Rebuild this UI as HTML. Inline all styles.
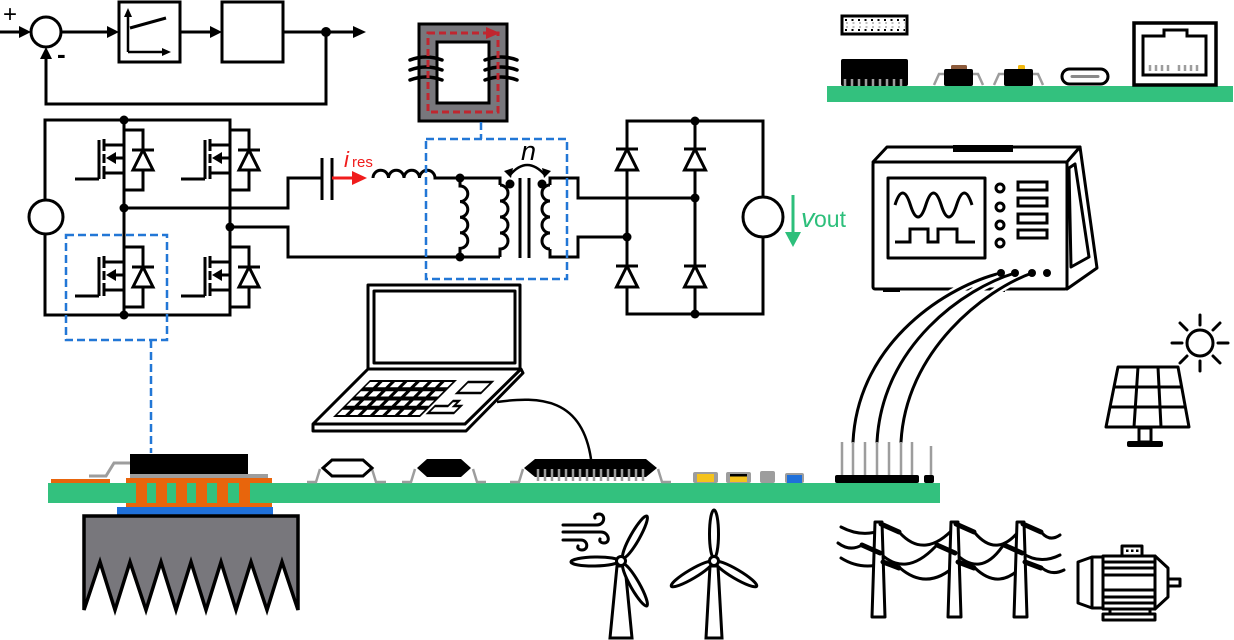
<!DOCTYPE html>
<html><head><meta charset="utf-8"><style>
html,body{margin:0;padding:0;background:#fff;}
svg{display:block;}
text{font-family:"Liberation Sans",sans-serif;}
</style></head><body>
<svg width="1234" height="640" viewBox="0 0 1234 640" xmlns="http://www.w3.org/2000/svg">
<defs>
<g id="sw" stroke="#000" stroke-width="3" fill="none">
  <path d="M0,0 H19 V60 H0"/>
  <polygon points="19,20 9,40 29,40" fill="#fff"/>
  <path d="M8,20 H30"/>
  <path d="M-20,15 H0 M-20,43 H0 M-9,28 H0"/>
  <polygon points="-18,28 -8,22 -8,34" fill="#000" stroke="none"/>
  <path d="M-20,9 V21 M-20,24 V33 M-20,36 V49"/>
  <path d="M-25,10 V49 M-49,49 H-25"/>
</g>
</defs>

<!-- ===== Control loop ===== -->
<g stroke="#000" stroke-width="3" fill="none">
  <path d="M0,32 H22"/>
  <circle cx="46" cy="32" r="15" fill="#fff"/>
  <path d="M61,32 H110"/>
  <rect x="119" y="2" width="61" height="60" fill="#fff"/>
  <path d="M180,32 H213"/>
  <rect x="222" y="2" width="61" height="60" fill="#fff"/>
  <path d="M283,32 H356"/>
  <path d="M326,32 V104 H46 V57"/>
  <path d="M128,52 V15 M128,52 H164" stroke-width="2.5"/>
  <path d="M130,28 L166,18"/>
</g>
<g fill="#000">
  <polygon points="19,26 31,32 19,38"/>
  <polygon points="107,26 119,32 107,38"/>
  <polygon points="210,26 222,32 210,38"/>
  <polygon points="353,26 366,32 353,38"/>
  <polygon points="40,59 46,47 52,59"/>
  <polygon points="124,17 128,8 132,17"/>
  <polygon points="162,48 171,52 162,56"/>
  <circle cx="326" cy="32" r="5"/>
</g>
<text x="3" y="22" font-size="24" fill="#000">+</text>
<text x="57" y="63" font-size="26" font-weight="bold" fill="#000">-</text>

<!-- ===== Full bridge ===== -->
<g stroke="#000" stroke-width="3" fill="none">
  <path d="M45,120 H230 V315 H45 Z"/>
  <path d="M124,120 V315"/>
  <circle cx="46" cy="217" r="17" fill="#fff"/>
  <path d="M124,208 H288 V178 H322"/>
  <path d="M230,227 H288 V257 H500"/>
</g>
<use href="#sw" x="124" y="130"/>
<use href="#sw" x="230" y="130"/>
<use href="#sw" x="124" y="247"/>
<use href="#sw" x="230" y="247"/>
<g fill="#000">
  <circle cx="124" cy="120" r="4.5"/>
  <circle cx="124" cy="208" r="4.5"/>
  <circle cx="124" cy="315" r="4.5"/>
  <circle cx="230" cy="227" r="4.5"/>
</g>
<rect x="66" y="235" width="101" height="105" fill="none" stroke="#2277d6" stroke-width="2.5" stroke-dasharray="8,4"/>
<path d="M151,340 V453" stroke="#2277d6" stroke-width="2.5" stroke-dasharray="8,4"/>

<!-- ===== Resonant tank & transformer ===== -->
<g stroke="#000" stroke-width="3" fill="none">
  <path d="M322,158 V200 M332,158 V200"/>
  <path d="M373,178 a7.75,7.75 0 0 1 15.5,0 a7.75,7.75 0 0 1 15.5,0 a7.75,7.75 0 0 1 15.5,0 a7.75,7.75 0 0 1 15.5,0 H500 V185"/>
  <path d="M500,185 a8,8 0 0 1 0,16 a8,8 0 0 1 0,16 a8,8 0 0 1 0,16 a8,8 0 0 1 0,16 V257"/>
  <path d="M460,178 V186 a7.8,7.8 0 0 1 0,15.6 a7.8,7.8 0 0 1 0,15.6 a7.8,7.8 0 0 1 0,15.6 a7.8,7.8 0 0 1 0,15.6 V257"/>
  <path d="M520,178 V258 M529,178 V258"/>
  <path d="M550,185 a8,8 0 0 0 0,16 a8,8 0 0 0 0,16 a8,8 0 0 0 0,16 a8,8 0 0 0 0,16"/>
  <path d="M550,185 V178 H578 V198 H695"/>
  <path d="M550,249 V257 H578 V237 H627"/>
  <path d="M510,175 Q527,155 545,175" stroke-width="2.5"/>
</g>
<g fill="#000">
  <circle cx="460" cy="178" r="4.5"/>
  <circle cx="460" cy="257" r="4.5"/>
  <circle cx="510" cy="184" r="4.5"/>
  <circle cx="542" cy="184" r="4.5"/>
  <polygon points="504,171 513,168 511,178"/>
  <polygon points="551,171 542,168 544,178"/>
</g>
<path d="M332,178 H355" stroke="#f01c1c" stroke-width="3"/>
<polygon points="352,171 367,178 352,185" fill="#f01c1c"/>
<text x="344" y="167" font-size="22" font-style="italic" fill="#f01c1c">i</text>
<text x="352" y="167" font-size="15" fill="#f01c1c">res</text>
<text x="521" y="160" font-size="27" font-style="italic" fill="#000">n</text>

<!-- core -->
<rect x="419" y="24" width="88" height="97" fill="#78777c" stroke="#000" stroke-width="3"/>
<rect x="437" y="42" width="52" height="61" fill="#fff" stroke="#000" stroke-width="3"/>
<g stroke="#000" stroke-width="3.5" fill="none" stroke-linecap="round">
  <path d="M410,60 Q426,54 442,60 M410,70 Q426,64 442,70 M410,80 Q426,74 442,80"/>
  <path d="M485,60 Q501,54 517,60 M485,70 Q501,64 517,70 M485,80 Q501,74 517,80"/>
</g>
<rect x="428" y="33" width="70" height="79" fill="none" stroke="#c0262f" stroke-width="3" stroke-dasharray="7,4"/>
<polygon points="486,27 500,33 486,39" fill="#c0262f"/>
<rect x="426" y="139" width="141" height="140" fill="none" stroke="#2277d6" stroke-width="2.5" stroke-dasharray="8,4"/>
<path d="M481,122 V139" stroke="#2277d6" stroke-width="2.5" stroke-dasharray="8,4"/>

<!-- ===== Rectifier ===== -->
<g stroke="#000" stroke-width="3" fill="none">
  <path d="M627,121 H763 V314 H627 Z"/>
  <path d="M695,121 V314"/>
  <circle cx="763" cy="217" r="20" fill="#fff"/>
  <polygon points="627,149 616.5,170 637.5,170" fill="#fff"/>
  <polygon points="695,149 684.5,170 705.5,170" fill="#fff"/>
  <polygon points="627,266 616.5,287 637.5,287" fill="#fff"/>
  <polygon points="695,266 684.5,287 705.5,287" fill="#fff"/>
  <path d="M616,149 H638 M684,149 H706 M616,266 H638 M684,266 H706"/>
</g>
<g fill="#000">
  <circle cx="695" cy="121" r="4.5"/>
  <circle cx="695" cy="198" r="4.5"/>
  <circle cx="627" cy="237" r="4.5"/>
  <circle cx="695" cy="314" r="4.5"/>
</g>
<path d="M793,195 V235" stroke="#2dbf7b" stroke-width="3"/>
<polygon points="785,232 801,232 793,247" fill="#2dbf7b"/>
<text x="801" y="227" font-size="27" font-style="italic" fill="#2dbf7b">v</text>
<text x="814" y="227" font-size="23" fill="#2dbf7b">out</text>

<!-- ===== Top-right PCB ===== -->
<rect x="827" y="86" width="406" height="16" fill="#33c17e"/>
<rect x="842" y="16" width="65" height="18" fill="#fff" stroke="#000" stroke-width="3"/>
<path d="M845,20 H905 M845,30 H905" stroke="#000" stroke-width="2" stroke-dasharray="2,4.5"/>
<path d="M846,23 H905 M846,27 H905" stroke="#aaa" stroke-width="1.5" stroke-dasharray="2,4.5"/>
<rect x="841" y="59" width="67" height="27" rx="2" fill="#000"/>
<g stroke="#9d9d9d" stroke-width="2.5">
  <path d="M845,79 V86 M852,79 V86 M859,79 V86 M866,79 V86 M873,79 V86 M880,79 V86 M887,79 V86 M894,79 V86 M901,79 V86"/>
</g>
<g stroke="#9d9d9d" stroke-width="2.5" fill="none">
  <path d="M934,85 L939,74 H945 M972,74 H978 L983,85"/>
  <path d="M994,85 L999,74 H1005 M1032,74 H1038 L1043,85"/>
</g>
<rect x="951" y="65" width="16" height="6" rx="1.5" fill="#8c5a3a"/>
<rect x="944" y="69" width="29" height="17" rx="2" fill="#000"/>
<rect x="1018" y="65" width="7" height="6" rx="1.5" fill="#f2b90f"/>
<rect x="1004" y="69" width="29" height="17" rx="2" fill="#000"/>
<rect x="1062" y="69" width="46" height="15" rx="7.5" fill="#fff" stroke="#000" stroke-width="3"/>
<path d="M1072,76.5 H1098" stroke="#8a8a8a" stroke-width="3" stroke-linecap="round"/>
<rect x="1134" y="23" width="82" height="62" fill="#fff" stroke="#000" stroke-width="3.5"/>
<polygon points="1143,36 1164,36 1164,30 1187,30 1187,36 1206,36 1206,75 1143,75" fill="#fff" stroke="#000" stroke-width="3"/>
<g stroke="#9d9d9d" stroke-width="2.5">
  <path d="M1150,65 V71 M1156,65 V71 M1162,65 V71 M1168,65 V71 M1179,65 V71 M1185,65 V71 M1191,65 V71 M1197,65 V71"/>
</g>

<!-- ===== Oscilloscope ===== -->
<g stroke="#000" stroke-width="3" fill="#fff" stroke-linejoin="round">
  <polygon points="873,162 887,147 1080,147 1067,162"/>
  <polygon points="1067,162 1080,147 1097,268 1067,289"/>
  <polygon points="1069,168 1075,164 1089,257 1071,267" fill="none"/>
  <rect x="873" y="162" width="194" height="127" rx="2"/>
  <rect x="888" y="178" width="97" height="80"/>
</g>
<rect x="953" y="145" width="60" height="7" fill="#000"/>
<g stroke="#000" stroke-width="3" fill="none">
  <path d="M895,205 c5,-16 10.4,-16 15.4,0 s10.4,16 15.4,0 s10.4,-16 15.4,0 s10.4,16 15.4,0 s10.4,-16 15.4,0"/>
  <path d="M895,242 H910 V229 H928 V242 H938 V229 H957 V242 H975"/>
  <circle cx="1000" cy="188" r="4"/>
  <circle cx="1000" cy="207" r="4"/>
  <circle cx="1000" cy="225" r="4"/>
  <circle cx="1000" cy="243" r="4"/>
  <rect x="1018" y="182" width="29" height="8"/>
  <rect x="1018" y="198" width="29" height="8"/>
  <rect x="1018" y="214" width="29" height="9"/>
  <rect x="1018" y="230" width="29" height="8"/>
</g>
<rect x="883" y="288" width="17" height="4" fill="#000"/>
<rect x="992" y="288" width="13" height="4" fill="#000"/>
<!-- cables -->
<g fill="none" stroke-linecap="round">
  <path d="M1001,273 C950,285 858,340 853,442" stroke="#fff" stroke-width="8"/>
  <path d="M1001,273 C950,285 858,340 853,442" stroke="#000" stroke-width="3"/>
  <path d="M1015,273 C965,288 882,345 877,442" stroke="#fff" stroke-width="8"/>
  <path d="M1015,273 C965,288 882,345 877,442" stroke="#000" stroke-width="3"/>
  <path d="M1032,273 C985,290 906,350 901,442" stroke="#fff" stroke-width="8"/>
  <path d="M1032,273 C985,290 906,350 901,442" stroke="#000" stroke-width="3"/>
</g>
<g fill="#000">
  <circle cx="1001" cy="273" r="4"/>
  <circle cx="1015" cy="273" r="4"/>
  <circle cx="1032" cy="273" r="4"/>
  <circle cx="1047" cy="273" r="4"/>
</g>

<!-- ===== Laptop ===== -->
<g stroke="#000" stroke-width="3" fill="#fff" stroke-linejoin="round">
  <polygon points="368,369 521,369 523,373 466,431 313,431 313,424"/>
  <path d="M313,424 H465 L521,369" fill="none"/>
  <rect x="368" y="285" width="152" height="84"/>
  <rect x="374" y="291" width="141" height="72"/>
</g>
<g transform="translate(370,380) skewX(-45)">
  <rect x="0" y="0" width="87" height="37" fill="#000"/>
  <g fill="#fff">
    <rect x="2.2" y="2" width="8" height="5.3"/><rect x="14.6" y="2" width="8" height="5.3"/><rect x="27" y="2" width="8" height="5.3"/><rect x="39.4" y="2" width="8" height="5.3"/><rect x="51.8" y="2" width="8" height="5.3"/><rect x="64.2" y="2" width="8" height="5.3"/><rect x="76.6" y="2" width="8" height="5.3"/>
    <rect x="2.2" y="11.25" width="8" height="5.3"/><rect x="14.6" y="11.25" width="8" height="5.3"/><rect x="27" y="11.25" width="8" height="5.3"/><rect x="39.4" y="11.25" width="8" height="5.3"/><rect x="51.8" y="11.25" width="8" height="5.3"/><rect x="64.2" y="11.25" width="8" height="5.3"/><rect x="76.6" y="11.25" width="8" height="5.3"/>
    <rect x="2.2" y="20.5" width="8" height="5.3"/><rect x="14.6" y="20.5" width="8" height="5.3"/><rect x="27" y="20.5" width="8" height="5.3"/><rect x="39.4" y="20.5" width="8" height="5.3"/><rect x="51.8" y="20.5" width="8" height="5.3"/><rect x="64.2" y="20.5" width="8" height="5.3"/><rect x="76.6" y="20.5" width="8" height="5.3"/>
    <rect x="2.2" y="29.75" width="8" height="5.3"/><rect x="14.6" y="29.75" width="8" height="5.3"/><rect x="27" y="29.75" width="8" height="5.3"/><rect x="39.4" y="29.75" width="8" height="5.3"/><rect x="51.8" y="29.75" width="8" height="5.3"/><rect x="64.2" y="29.75" width="8" height="5.3"/><rect x="76.6" y="29.75" width="8" height="5.3"/>
  </g>
  <rect x="100" y="2" width="24" height="11" fill="#fff" stroke="#000" stroke-width="2.5"/>
  <path d="M91,33 H117 V26 H110 V21 H104 V26 H91 Z" fill="#fff" stroke="#000" stroke-width="2.5"/>
</g>
<path d="M497,402 C540,396 582,398 591,459" fill="none" stroke="#000" stroke-width="2.5"/>

<!-- ===== Main PCB ===== -->
<rect x="48" y="483" width="892" height="20" fill="#33c17e"/>
<rect x="51" y="479" width="59" height="4" fill="#e8650c"/>
<polyline points="89,476 106,476 114,463 130,463" fill="none" stroke="#9d9d9d" stroke-width="3"/>
<rect x="130" y="454" width="118" height="20" fill="#000"/>
<rect x="130" y="474" width="138" height="4" fill="#9d9d9d"/>
<rect x="126" y="478" width="146" height="5" fill="#e8650c"/>
<g fill="#e8650c">
  <rect x="136" y="483" width="11" height="20"/><rect x="156" y="483" width="11" height="20"/><rect x="176" y="483" width="11" height="20"/><rect x="196" y="483" width="11" height="20"/><rect x="217" y="483" width="11" height="20"/><rect x="239" y="483" width="11" height="20"/>
</g>
<rect x="126" y="503" width="146" height="4" fill="#e8650c"/>
<rect x="117" y="507" width="156" height="9" fill="#1f70da"/>
<polygon points="84,516 298,516 298,610 282,562 267,610 251,562 236,610 221,562 206,610 191,562 176,610 161,562 146,610 130,562 115,610 100,562 84,610" fill="#78777c" stroke="#000" stroke-width="3.5" stroke-linejoin="miter"/>

<!-- leads -->
<g fill="none" stroke="#9d9d9d" stroke-width="2.5">
  <path d="M307,482 H316 L320,469 M372,469 L376,482 H386"/>
  <path d="M402,482 H411 L415,469 M473,469 L477,482 H486"/>
  <path d="M510,482 H519 L523,469 M658,469 L662,482 H671"/>
</g>
<polygon points="323,468 332,460 363,460 372,468 363,476 332,476" fill="#fff" stroke="#000" stroke-width="3"/>
<polygon points="417,468 427,459 461,459 471,468 461,477 427,477" fill="#000"/>
<polygon points="524,468 535,459 646,459 657,468 646,477 535,477" fill="#000"/>
<g stroke="#9d9d9d" stroke-width="2.5">
  <path d="M538,469 V481 M545,469 V481 M552,469 V481 M559,469 V481 M566,469 V481 M573,469 V481 M580,469 V481 M587,469 V481 M594,469 V481 M601,469 V481 M608,469 V481 M615,469 V481 M622,469 V481 M629,469 V481 M636,469 V481 M643,469 V481"/>
</g>
<!-- passives -->
<rect x="693" y="472" width="25" height="11" rx="2" fill="#9d9d9d"/>
<rect x="697" y="474" width="17" height="8" fill="#f5c31c"/>
<rect x="726" y="472" width="25" height="11" rx="2" fill="#9d9d9d"/>
<rect x="730" y="474" width="17" height="8" fill="#f5c31c"/>
<rect x="730" y="474" width="17" height="2.5" fill="#000"/>
<rect x="760" y="471" width="15" height="12" rx="2" fill="#9d9d9d"/>
<rect x="785" y="473" width="19" height="10" rx="2" fill="#9d9d9d"/>
<rect x="787" y="475" width="15" height="8" fill="#1f70da"/>
<!-- header -->
<g stroke="#9d9d9d" stroke-width="2.5">
  <path d="M842,442 V477 M853,442 V477 M865,442 V477 M877,442 V477 M889,442 V477 M901,442 V477 M912,442 V477 M931,446 V477"/>
</g>
<rect x="835" y="475" width="84" height="8" rx="2" fill="#000"/>
<rect x="924" y="475" width="10" height="8" rx="2" fill="#000"/>

<!-- ===== Wind turbines ===== -->
<g stroke="#000" stroke-width="3" fill="none" stroke-linecap="round">
  <path d="M563,525 H597 C605,525 606,514 599,514 C596,514 594,516 595,518"/>
  <path d="M563,532 H601 C609,532 611,543 604,543 C601,543 599,541 600,539"/>
  <path d="M563,540 H581 C588,540 589,550 582,550 C579,550 577,548 578,546"/>
</g>
<g stroke="#000" stroke-width="3" fill="#fff">
  <polygon points="617,566 625,566 632,638 610,638"/>
  <ellipse cx="635" cy="537" rx="24" ry="4.5" transform="rotate(-60.5 635 537)"/>
  <ellipse cx="595" cy="561.5" rx="24" ry="4.5" transform="rotate(179 595 561.5)"/>
  <ellipse cx="635" cy="585" rx="24" ry="4.5" transform="rotate(60.5 635 585)"/>
  <circle cx="621" cy="561" r="4.5"/>
  <polygon points="710,566 718,566 722,638 706,638"/>
  <ellipse cx="714" cy="534" rx="24" ry="4.5" transform="rotate(-90 714 534)"/>
  <ellipse cx="692" cy="574" rx="24" ry="4.5" transform="rotate(149.4 692 574)"/>
  <ellipse cx="736" cy="574" rx="24" ry="4.5" transform="rotate(30.6 736 574)"/>
  <circle cx="714" cy="561" r="4.5"/>
</g>

<!-- ===== Power lines ===== -->
<g stroke="#000" stroke-width="3" fill="none" stroke-linecap="round">
  <path d="M841,527 Q862,538 882,530"/>
  <path d="M900,533 Q925,560 955,527"/>
  <path d="M975,533 Q998,560 1022,527"/>
  <path d="M1042,533 Q1050,542 1060,535"/>
  <path d="M838,543 Q850,552 862,545"/>
  <path d="M880,553 Q905,578 935,547"/>
  <path d="M955,553 Q980,578 1002,547"/>
  <path d="M1022,553 Q1040,565 1060,555"/>
  <path d="M841,558 Q860,570 882,564"/>
  <path d="M900,568 Q928,592 957,564"/>
  <path d="M975,568 Q1000,592 1024,564"/>
  <path d="M1042,568 Q1052,576 1064,570"/>
</g>
<g stroke="#000" stroke-width="3" fill="#fff" stroke-linejoin="round">
  <polygon points="875,522 882,522 885,617 872,617"/>
  <polygon points="951,522 958,522 961,617 948,617"/>
  <polygon points="1017,522 1024,522 1027,617 1014,617"/>
</g>
<g stroke="#000" stroke-width="5" stroke-linecap="round">
  <path d="M881,524 L899,532 M862,545 L880,553 M883,562 L899,568"/>
  <path d="M956,524 L974,532 M937,545 L955,553 M958,562 L974,568"/>
  <path d="M1023,524 L1041,532 M1004,545 L1022,553 M1025,562 L1041,568"/>
</g>

<!-- ===== Motor ===== -->
<g stroke="#000" stroke-width="3" fill="#fff" stroke-linejoin="round">
  <polygon points="1078,562 1092,557 1103,557 1103,608 1092,608 1078,603"/>
  <path d="M1092,557 V608" fill="none"/>
  <rect x="1122" y="546" width="20" height="10"/>
  <rect x="1103" y="556" width="52" height="53"/>
  <path d="M1103,562 H1155 M1103,568 H1155 M1103,575 H1155 M1103,590 H1155 M1103,597 H1155 M1103,603 H1155" fill="none"/>
  <polygon points="1155,556 1168,568 1168,597 1155,609"/>
  <rect x="1168" y="579" width="12" height="7"/>
  <rect x="1110" y="609" width="40" height="5"/>
  <rect x="1103" y="614" width="52" height="6"/>
</g>
<g fill="#000">
  <rect x="1126" y="549.5" width="2.5" height="2.5"/><rect x="1131" y="549.5" width="2.5" height="2.5"/><rect x="1136" y="549.5" width="2.5" height="2.5"/>
</g>

<!-- ===== Solar panel ===== -->
<g stroke="#000" stroke-width="3" fill="none" stroke-linecap="round">
  <circle cx="1200" cy="343" r="13" fill="#fff"/>
  <path d="M1218,343 H1228 M1213,356 L1220,363 M1200,361 V371 M1187,356 L1180,363 M1182,343 H1172 M1187,330 L1180,323 M1200,325 V315 M1213,330 L1220,323"/>
</g>
<g stroke="#000" stroke-width="3" fill="#fff" stroke-linejoin="round">
  <polygon points="1118,367 1178,367 1189,427 1106,427"/>
  <path d="M1114,387 H1182 M1110,407 H1185 M1138,367 L1134,427 M1158,367 L1161,427" fill="none"/>
  <rect x="1139" y="428" width="12" height="14"/>
</g>
<rect x="1127" y="441" width="36" height="6" rx="2" fill="#000"/>
</svg>
</body></html>
